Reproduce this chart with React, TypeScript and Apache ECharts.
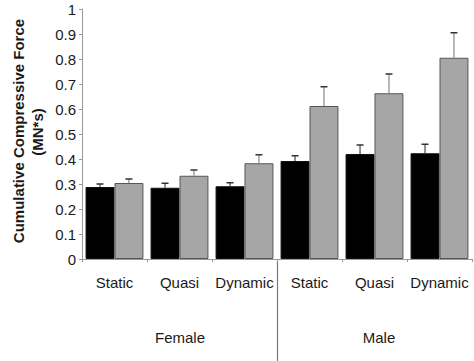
import React, { useEffect, useRef } from "react";
import * as echarts from "echarts";

const categories = ["Static", "Quasi", "Dynamic", "Static", "Quasi", "Dynamic"];
const groups = ["Female", "Male"];
const blackValues = [0.288, 0.285, 0.291, 0.392, 0.42, 0.423];
const blackErr = [0.012, 0.018, 0.014, 0.021, 0.036, 0.036];
const grayValues = [0.304, 0.333, 0.383, 0.612, 0.663, 0.805];
const grayErr = [0.016, 0.023, 0.034, 0.077, 0.077, 0.1];
const yTicks = { min: 0, max: 1, interval: 0.1 };

const FONT = "'Liberation Sans', Arial, sans-serif";
const CAT_GAP = 0.11;

function errorSeries(values: number[], errs: number[], side: number, lineColor: string) {
  return {
    type: "custom",
    silent: true,
    z: 5,
    data: values.map((v, i) => [i, v, v + errs[i]]),
    renderItem: (params: any, api: any) => {
      const idx = api.value(0);
      const band = api.size([1, 0])[0];
      const barW = (band * (1 - CAT_GAP)) / 2;
      const base = api.coord([idx, api.value(1)]);
      const top = api.coord([idx, api.value(2)]);
      const x = base[0] + (side * barW) / 2;
      const cap = 3.5;
      return {
        type: "group",
        children: [
          {
            type: "line",
            shape: { x1: x, y1: base[1], x2: x, y2: top[1] },
            style: { stroke: lineColor, lineWidth: 1.2 },
          },
          {
            type: "line",
            shape: { x1: x - cap, y1: top[1], x2: x + cap, y2: top[1] },
            style: { stroke: "#333", lineWidth: 1.5 },
          },
        ],
      };
    },
  };
}

export default function App() {
  const ref = useRef<HTMLDivElement>(null);
  useEffect(() => {
    if (!ref.current) return;
    const chart = echarts.init(ref.current, null, { renderer: "svg" });
    chart.setOption({
      animation: false,
      backgroundColor: "#fff",
      textStyle: { fontFamily: FONT },
      grid: { left: 82, right: 2, top: 9, bottom: 102, containLabel: false },
      xAxis: {
        type: "category",
        data: categories,
        axisLine: { lineStyle: { color: "#999", width: 1 } },
        axisTick: { show: true, length: 3, lineStyle: { color: "#999" } },
        axisLabel: { fontSize: 15, color: "#1a1a1a", margin: 16, fontFamily: FONT, interval: 0 },
      },
      yAxis: {
        type: "value",
        min: yTicks.min,
        max: yTicks.max,
        interval: yTicks.interval,
        splitLine: { show: false },
        axisLine: { show: true, lineStyle: { color: "#999", width: 1 } },
        axisTick: { show: true, length: 3, lineStyle: { color: "#999" } },
        axisLabel: {
          fontSize: 15,
          color: "#1a1a1a",
          margin: 6,
          fontFamily: FONT,
          formatter: (v: number) => String(Math.round(v * 10) / 10),
        },
      },
      series: [
        {
          type: "bar",
          data: blackValues,
          barGap: "0%",
          barCategoryGap: CAT_GAP * 100 + "%",
          itemStyle: { color: "#000", borderColor: "#111", borderWidth: 1 },
        },
        {
          type: "bar",
          data: grayValues,
          barGap: "0%",
          barCategoryGap: CAT_GAP * 100 + "%",
          itemStyle: { color: "#a6a6a6", borderColor: "#555", borderWidth: 1 },
        },
        errorSeries(blackValues, blackErr, -1, "#444"),
        errorSeries(grayValues, grayErr, 1, "#888"),
      ],
      graphic: [
        {
          type: "text",
          x: 18,
          y: 131,
          rotation: Math.PI / 2,
          style: {
            text: "Cumulative Compressive Force",
            fontSize: 15,
            fontWeight: "bold",
            fontFamily: FONT,
            fill: "#1a1a1a",
            align: "center",
            verticalAlign: "middle",
          },
        },
        {
          type: "text",
          x: 37,
          y: 132,
          rotation: Math.PI / 2,
          style: {
            text: "(MN*s)",
            fontSize: 15,
            fontWeight: "bold",
            fontFamily: FONT,
            fill: "#1a1a1a",
            align: "center",
            verticalAlign: "middle",
          },
        },
        {
          type: "text",
          x: 180,
          y: 337,
          style: {
            text: groups[0],
            fontSize: 15,
            fontFamily: FONT,
            fill: "#1a1a1a",
            align: "center",
            verticalAlign: "middle",
          },
        },
        {
          type: "text",
          x: 379,
          y: 337,
          style: {
            text: groups[1],
            fontSize: 15,
            fontFamily: FONT,
            fill: "#1a1a1a",
            align: "center",
            verticalAlign: "middle",
          },
        },
        {
          type: "line",
          shape: { x1: 277.5, y1: 259, x2: 277.5, y2: 361 },
          style: { stroke: "#777", lineWidth: 1.2 },
        },
      ],
    });
    return () => chart.dispose();
  }, []);
  return (
    <div
      ref={ref}
      style={{ position: "fixed", left: 0, top: 0, width: 474, height: 361, background: "#fff" }}
    />
  );
}
